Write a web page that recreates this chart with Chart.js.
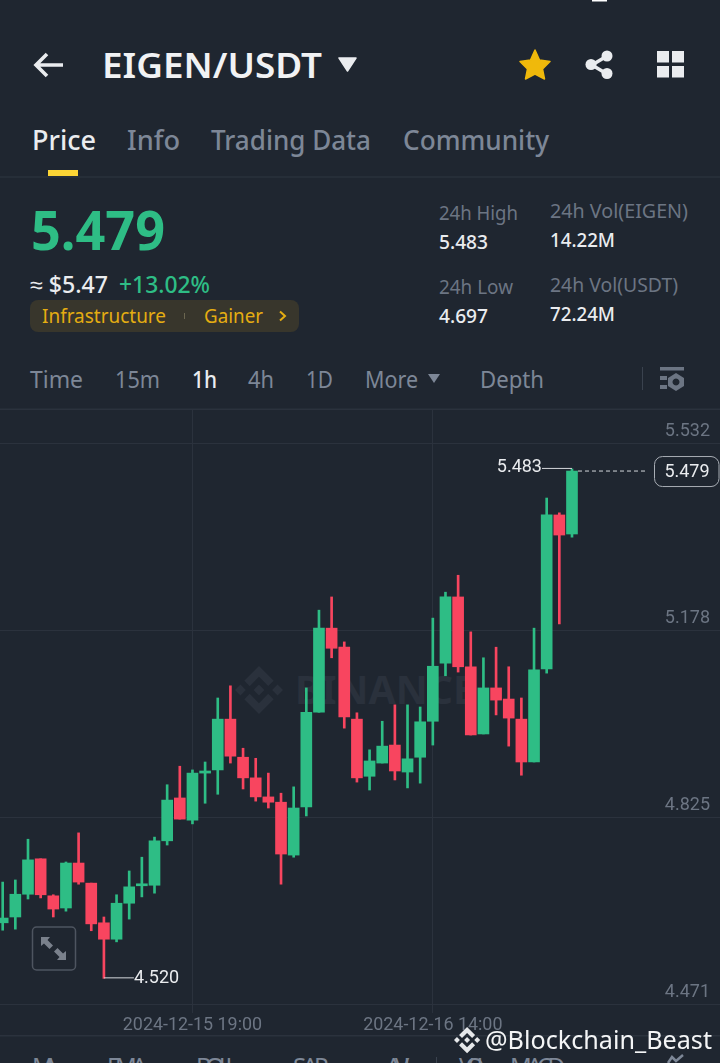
<!DOCTYPE html>
<html>
<head>
<meta charset="utf-8">
<script src="https://cdn.jsdelivr.net/npm/chart.js@4/dist/chart.umd.min.js"></script>
<style>
  html, body { margin: 0; padding: 0; background: #1f2630; overflow: hidden; }
  #page { position: relative; width: 720px; height: 1063px; overflow: hidden; }
  svg, canvas { position: absolute; left: 0; }
  svg { top: 0; font-family: "Noto Sans", sans-serif; }
  #chart { top: 410px; }
  .dim { fill: #7d8797; }
  .soft { fill: #6c7583; }
  .lite { fill: #eaecef; font-weight: 500; }
</style>
</head>
<body>
<div id="page">
  <svg width="720" height="1063">
    <defs>
      <path id="bnb" d="M16.624 13.9202l2.7175 2.7154-7.353 7.3648-7.353-7.352 2.7175-2.7164 4.6355 4.6595 4.6356-4.6595zm4.6366-4.6366L24 12l-2.7154 2.7164L18.5682 12l2.6924-2.7164zm-9.272.001l2.7163 2.6914-2.7164 2.7174v-.001L9.2721 12l2.7164-2.7154zm-9.2722-.001L5.4088 12l-2.6914 2.6924L0 12l2.7164-2.7164zM11.9885.0115l7.353 7.329-2.7174 2.7154-4.6356-4.6356-4.6355 4.6595-2.7174-2.7154 7.353-7.353z"/>
    </defs>
    <rect x="592" y="0" width="15" height="1.5" fill="#fff"/>

    <!-- top bar -->
    <path d="M63 65H37M47 54L36 65L47 76" fill="none" stroke="#eaecef" stroke-width="3.6"/>
    <text x="102" y="78" font-size="35" font-weight="600" fill="#f1f2f4" textLength="220" lengthAdjust="spacingAndGlyphs">EIGEN/USDT</text>
    <path d="M339 58H356L347.5 71Z" fill="#eaecef" stroke="#eaecef" stroke-width="1.5" stroke-linejoin="round"/>
    <path d="M535 50L539.5 60L550 61.5L542.5 69L544.5 79L535 74L525.5 79L527.5 69L520 61.5L530.5 60Z" fill="#f0b90b" stroke="#f0b90b" stroke-width="1.5" stroke-linejoin="round"/>
    <g fill="#eaecef" stroke="#eaecef">
      <path d="M607 56L592 65L607 74" fill="none" stroke-width="3.5"/>
      <circle cx="607" cy="56" r="5.5" stroke="none"/><circle cx="591" cy="64.5" r="5.5" stroke="none"/><circle cx="607" cy="73.5" r="5.5" stroke="none"/>
    </g>
    <g fill="#eaecef">
      <rect x="657" y="51" width="12" height="11.5"/><rect x="672" y="51" width="12" height="11.5"/>
      <rect x="657" y="66" width="12" height="11.5"/><rect x="672" y="66" width="12" height="11.5"/>
    </g>

    <!-- tabs -->
    <text x="32" y="150" font-size="27" class="lite" textLength="64" lengthAdjust="spacingAndGlyphs">Price</text>
    <text x="127" y="150" font-size="27" class="dim" font-weight="500" textLength="53" lengthAdjust="spacingAndGlyphs">Info</text>
    <text x="211" y="150" font-size="27" class="dim" font-weight="500" textLength="160" lengthAdjust="spacingAndGlyphs">Trading Data</text>
    <text x="403" y="150" font-size="27" class="dim" font-weight="500" textLength="146" lengthAdjust="spacingAndGlyphs">Community</text>
    <rect x="48" y="170" width="30" height="6" fill="#fcd535"/>
    <rect x="0" y="176.5" width="720" height="1" fill="#2f3641"/>

    <!-- price block -->
    <text x="31" y="250" font-size="53" font-weight="700" fill="#2ebd85" textLength="134" lengthAdjust="spacingAndGlyphs">5.479</text>
    <text x="30" y="293" font-size="23" class="lite" textLength="78" lengthAdjust="spacingAndGlyphs">≈ $5.47</text>
    <text x="119" y="293" font-size="23" font-weight="500" fill="#2ebd85" textLength="91" lengthAdjust="spacingAndGlyphs">+13.02%</text>
    <rect x="30" y="300" width="269" height="32" rx="8" fill="#38362c"/>
    <text x="42" y="323" font-size="20" fill="#e5ad12" textLength="124" lengthAdjust="spacingAndGlyphs">Infrastructure</text>
    <rect x="184" y="313" width="1" height="6" fill="#6b6650"/>
    <text x="204" y="323" font-size="20" fill="#e5ad12" textLength="59" lengthAdjust="spacingAndGlyphs">Gainer</text>
    <path d="M280 311.5L285 316L280 320.5" fill="none" stroke="#e5ad12" stroke-width="2"/>

    <text x="439" y="220" font-size="20" class="soft" textLength="79" lengthAdjust="spacingAndGlyphs">24h High</text>
    <text x="439" y="249" font-size="19" class="lite" textLength="49" lengthAdjust="spacingAndGlyphs">5.483</text>
    <text x="550" y="218" font-size="20" class="soft" textLength="138" lengthAdjust="spacingAndGlyphs">24h Vol(EIGEN)</text>
    <text x="550" y="247" font-size="19" class="lite" textLength="65" lengthAdjust="spacingAndGlyphs">14.22M</text>
    <text x="439" y="294" font-size="20" class="soft" textLength="74" lengthAdjust="spacingAndGlyphs">24h Low</text>
    <text x="439" y="323" font-size="19" class="lite" textLength="49" lengthAdjust="spacingAndGlyphs">4.697</text>
    <text x="550" y="292" font-size="20" class="soft" textLength="128" lengthAdjust="spacingAndGlyphs">24h Vol(USDT)</text>
    <text x="550" y="321" font-size="19" class="lite" textLength="65" lengthAdjust="spacingAndGlyphs">72.24M</text>

    <!-- interval row -->
    <text x="30" y="388" font-size="24" class="dim" textLength="53" lengthAdjust="spacingAndGlyphs">Time</text>
    <text x="115" y="388" font-size="24" class="dim" textLength="45" lengthAdjust="spacingAndGlyphs">15m</text>
    <text x="192" y="388" font-size="24" class="lite" textLength="25" lengthAdjust="spacingAndGlyphs">1h</text>
    <text x="248" y="388" font-size="24" class="dim" textLength="26" lengthAdjust="spacingAndGlyphs">4h</text>
    <text x="306" y="388" font-size="24" class="dim" textLength="27" lengthAdjust="spacingAndGlyphs">1D</text>
    <text x="365" y="388" font-size="24" class="dim" textLength="53" lengthAdjust="spacingAndGlyphs">More</text>
    <path d="M428 374H440L434 383Z" fill="#7d8797"/>
    <text x="480" y="388" font-size="24" class="dim" textLength="64" lengthAdjust="spacingAndGlyphs">Depth</text>
    <rect x="642" y="367" width="1" height="23" fill="#3a424e"/>
    <g fill="#6c7583">
      <rect x="660" y="367" width="24" height="3.5"/>
      <rect x="660" y="376" width="7" height="4"/><rect x="660" y="385" width="7" height="4"/>
      <path fill-rule="evenodd" d="M676 373L684 378V386L676 391L668 386V378ZM676 378.5a3.5 3.5 0 1 0 .01 0Z"/>
    </g>
    <rect x="0" y="408.5" width="720" height="1.5" fill="#2b323d"/>

    <!-- watermark behind the candles -->
    <use href="#bnb" transform="translate(235 666) scale(2)" fill="#2a313c"/>
    <text x="295" y="704" font-size="39" font-weight="700" fill="#2a313c" textLength="180" lengthAdjust="spacingAndGlyphs">BINANCE</text>

    <rect x="0" y="1035" width="720" height="1.5" fill="#2b323d"/>

    <!-- expand button -->
    <rect x="32.5" y="927" width="43" height="43" rx="4" fill="none" stroke="#4e5560" stroke-width="1.5"/>
    <g fill="#7a818c">
      <path d="M41 937H50L47.5 940L53 945.5L49.5 949L44 943.5L41 946Z"/>
      <path d="M66 960H57L59.5 957L54 951.500L57.500 948L63 953.500L66 951Z"/>
    </g>

    <!-- indicator row, cut off by the bottom edge -->
    <g font-size="24" class="dim">
      <text x="32" y="1075" textLength="26">MA</text>
      <text x="107" y="1075" textLength="40">EMA</text>
      <text x="196" y="1075" textLength="42">BOLL</text>
      <text x="293" y="1075" textLength="36">SAR</text>
      <text x="386" y="1075" textLength="30">AVL</text>
      <text x="459" y="1075" textLength="30">VOL</text>
      <text x="510" y="1075" textLength="55">MACD</text>
    </g>
    <rect x="436" y="1057" width="1" height="6" fill="#3a424e"/>
    <path d="M668 1063L672 1057L676 1061L683 1055" fill="none" stroke="#7d8797" stroke-width="2.5"/>
  </svg>

  <canvas id="chart" width="720" height="625"></canvas>

  <svg width="720" height="1063" style="pointer-events:none">
    <defs>
      <path id="bnb2" d="M16.624 13.9202l2.7175 2.7154-7.353 7.3648-7.353-7.352 2.7175-2.7164 4.6355 4.6595 4.6356-4.6595zm4.6366-4.6366L24 12l-2.7154 2.7164L18.5682 12l2.6924-2.7164zm-9.272.001l2.7163 2.6914-2.7164 2.7174v-.001L9.2721 12l2.7164-2.7154zm-9.2722-.001L5.4088 12l-2.6914 2.6924L0 12l2.7164-2.7164zM11.9885.0115l7.353 7.329-2.7174 2.7154-4.6356-4.6356-4.6355 4.6595-2.7174-2.7154 7.353-7.353z"/>
    </defs>
    <use href="#bnb2" transform="translate(454 1027) scale(1.09)" fill="#e6e8ea"/>
    <text x="485" y="1049" font-size="26" fill="#f4f5f6" textLength="227" lengthAdjust="spacingAndGlyphs">@Blockchain_Beast</text>
  </svg>
</div>

<script>
// 1h candles (first visible candle is on the left edge)
const opens = [4.625, 4.636, 4.679, 4.746, 4.676, 4.653, 4.738, 4.700, 4.625, 4.594,
  4.662, 4.695, 4.696, 4.780, 4.861, 4.819, 4.908, 4.914, 5.010, 4.938,
  4.899, 4.863, 4.853, 4.753, 4.844, 5.023, 5.182, 5.146, 5.010, 4.902,
  4.927, 4.961, 4.910, 4.938, 5.006, 5.116, 5.241, 5.109, 4.982, 5.069,
  5.048, 5.010, 4.929, 5.105, 5.396, 5.360];
const highs = [4.702, 4.706, 4.783, 4.746, 4.678, 4.740, 4.795, 4.700, 4.636, 4.678,
  4.723, 4.749, 4.787, 4.886, 4.921, 4.914, 4.929, 5.050, 5.073, 4.955,
  4.936, 4.908, 4.870, 4.882, 5.069, 5.216, 5.241, 5.156, 5.022, 4.952,
  5.006, 5.037, 5.037, 5.033, 5.201, 5.250, 5.282, 5.175, 5.126, 5.146,
  5.109, 5.050, 5.182, 5.428, 5.400, 5.483];
const lows = [4.611, 4.613, 4.670, 4.672, 4.636, 4.647, 4.698, 4.610, 4.520, 4.589,
  4.632, 4.674, 4.681, 4.772, 4.821, 4.812, 4.851, 4.868, 4.927, 4.878,
  4.855, 4.842, 4.698, 4.749, 4.827, 5.023, 5.126, 4.993, 4.891, 4.876,
  4.927, 4.895, 4.880, 4.889, 4.961, 5.092, 5.099, 4.980, 4.982, 5.018,
  4.959, 4.904, 4.929, 5.097, 5.190, 5.354];
const closes = [4.634, 4.679, 4.744, 4.678, 4.651, 4.738, 4.702, 4.623, 4.594, 4.662,
  4.693, 4.698, 4.780, 4.857, 4.821, 4.908, 4.912, 5.010, 4.940, 4.899,
  4.863, 4.853, 4.755, 4.842, 5.023, 5.182, 5.144, 5.014, 4.899, 4.931,
  4.959, 4.912, 4.935, 5.005, 5.110, 5.241, 5.109, 4.980, 5.069, 5.046,
  5.012, 4.929, 5.103, 5.396, 5.358, 5.479];
const priceTicks = [5.532, 5.178, 4.825, 4.471];
const timeTickIndex = [15, 34];
const timeTickLabels = ["2024-12-15 19:00", "2024-12-16 14:00"];
const lastPrice = 5.479;
const highPrice = 5.483;
const lowPrice = 4.520;

const UP = "#2ebd85";
const DOWN = "#f8455f";
const GRID = "#2b323d";
const colors = opens.map((o, i) => (closes[i] >= o ? UP : DOWN));

// high / low / last price markers, same as the exchange app
const markers = {
  id: "markers",
  afterDatasetsDraw(chart) {
    const { ctx, scales: { x, y } } = chart;
    const last = opens.length - 1;
    const hiX = x.getPixelForValue(highs.indexOf(highPrice));
    const loX = x.getPixelForValue(lows.indexOf(lowPrice));
    const lastY = y.getPixelForValue(lastPrice);
    const hiY = y.getPixelForValue(highPrice);
    const loY = y.getPixelForValue(lowPrice);
    ctx.save();
    ctx.font = '18px Roboto';
    ctx.textBaseline = "middle";
    ctx.fillStyle = "#eaecef";
    ctx.strokeStyle = "#d5d8dc";
    ctx.lineWidth = 1;

    ctx.beginPath();
    ctx.moveTo(hiX - 30, hiY - 0.5);
    ctx.lineTo(hiX, hiY - 0.5);
    ctx.moveTo(loX, loY - 0.5);
    ctx.lineTo(loX + 30, loY - 0.5);
    ctx.stroke();
    ctx.textAlign = "right";
    ctx.fillText(highPrice.toFixed(3), hiX - 30, hiY - 1);
    ctx.textAlign = "left";
    ctx.fillText(lowPrice.toFixed(3), loX + 30, loY);

    ctx.setLineDash([4, 3]);
    ctx.beginPath();
    ctx.moveTo(x.getPixelForValue(last) + 6, lastY);
    ctx.lineTo(646, lastY);
    ctx.stroke();
    ctx.setLineDash([]);

    ctx.strokeStyle = "#a9aeb5";
    ctx.beginPath();
    ctx.roundRect(654.5, lastY - 14.5, 64.5, 30, 8);
    ctx.stroke();
    ctx.textAlign = "center";
    ctx.fillText(lastPrice.toFixed(3), 687, lastY + 1);
    ctx.restore();
  }
};

new Chart(document.getElementById("chart"), {
  type: "bar",
  data: {
    datasets: [
      {
        label: "body",
        data: opens.map((o, i) => ({ x: i, y: [o, closes[i]] })),
        backgroundColor: colors,
        barThickness: 11,
        minBarLength: 2,
        grouped: false
      },
      {
        label: "wick",
        data: highs.map((h, i) => ({ x: i, y: [lows[i], h] })),
        backgroundColor: colors,
        barThickness: 2,
        grouped: false
      }
    ]
  },
  options: {
    responsive: false,
    animation: false,
    layout: { padding: 0 },
    plugins: { legend: { display: false }, tooltip: { enabled: false } },
    scales: {
      x: {
        type: "linear",
        bounds: "data",
        offset: false,
        min: -0.213,
        max: 56.7,
        afterFit: (axis) => { axis.height = 22; axis.paddingLeft = 0; axis.paddingRight = 0; },
        afterBuildTicks: (axis) => { axis.ticks = timeTickIndex.map((v) => ({ value: v })); },
        border: { display: false },
        grid: { color: GRID, drawTicks: false, offset: false },
        ticks: {
          autoSkip: false,
          maxRotation: 0,
          padding: 2,
          color: "#6c7583",
          font: { family: "Roboto", size: 17.9 },
          callback: (v) => timeTickLabels[timeTickIndex.indexOf(v)]
        }
      },
      y: {
        position: "right",
        bounds: "data",
        min: 4.4545,
        max: 5.5944,
        afterFit: (axis) => { axis.width = 0; axis.paddingTop = 0; axis.paddingBottom = 0; },
        afterBuildTicks: (axis) => { axis.ticks = priceTicks.map((v) => ({ value: v })); },
        border: { display: false },
        grid: { color: GRID, drawTicks: false },
        ticks: {
          mirror: true,
          padding: -10,
          labelOffset: -12,
          color: "#6c7583",
          font: { family: "Roboto", size: 18 },
          callback: (v) => v.toFixed(3)
        }
      }
    }
  },
  plugins: [markers]
});
</script>
</body>
</html>
